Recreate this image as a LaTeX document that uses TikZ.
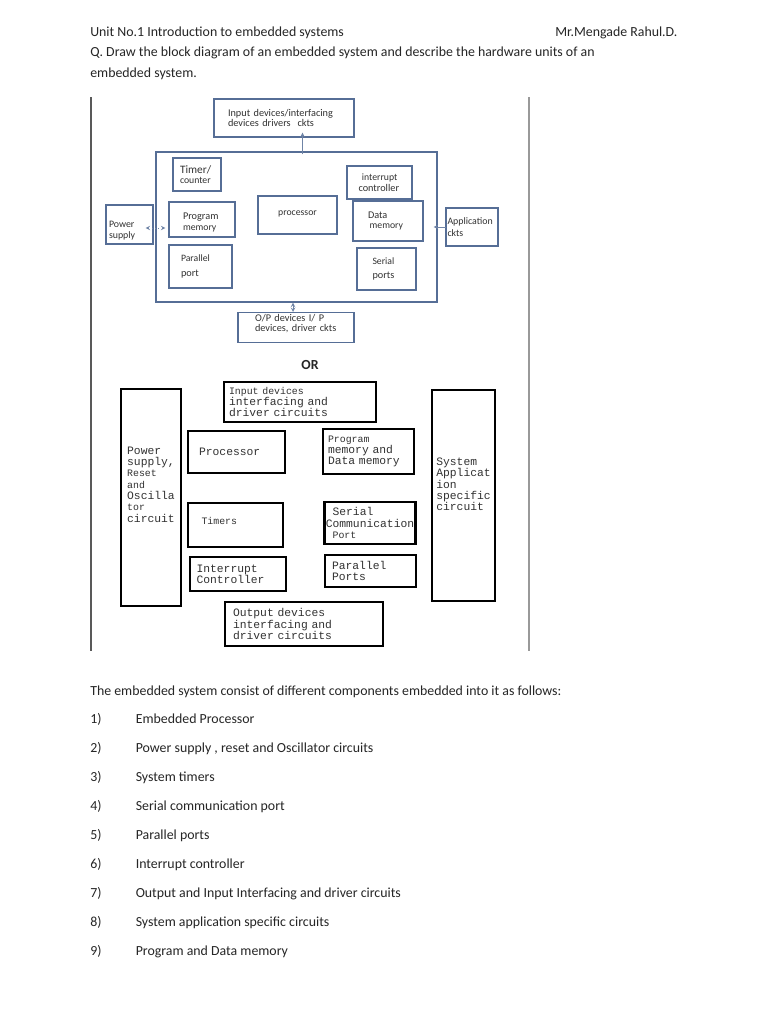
\documentclass[tikz,border=0pt]{standalone}
\usepackage{fontspec}
\setmainfont{Carlito}
\newfontfamily\monofont{Liberation Mono}
\usetikzlibrary{calc}
\definecolor{boxblue}{RGB}{86,110,150}
\definecolor{inkgray}{RGB}{50,50,50}
\newcommand\minitxt{\fontsize{7.3}{8}\selectfont}
\newcommand\smallmono{\fontsize{7.4}{8.5}\selectfont}
\hyphenpenalty=10000
\exhyphenpenalty=10000

\tikzset{
  sz/.style 2 args={minimum width=#1*0.75pt, minimum height=#2*0.75pt},
  tw/.style={text width=#1*0.75pt},
  bluebox/.style={draw=boxblue, line width=0.9pt, inner sep=1pt, align=left, text=inkgray, font=\fontsize{7.7}{8}\selectfont},
  blackbox/.style={draw=black, line width=2.2pt, inner sep=1pt, align=left, text=inkgray, font=\monofont\fontsize{8.5}{8.5}\selectfont},
  bodytext/.style={anchor=base west, inner sep=0pt, text=black!85, font=\fontsize{10.4}{12}\selectfont},
  link/.style={draw=boxblue!85, line width=0.5pt, >=stealth},
}

\begin{document}
\begin{tikzpicture}[x=0.75pt, y=-0.75pt]
			\useasboundingbox[fill=white] (0,0) rectangle (768,1024);
			
			%%%%% HEADER %%%%%
			\node[bodytext] (unit) at (90, 37) {Unit No.1 Introduction to embedded systems};
			\node[bodytext] (author) at (555, 37) {Mr.Mengade Rahul.D.};
			\node[bodytext] (qline) at (90, 56.5) {Q. Draw the block diagram of an embedded system and describe the hardware units of an};
			\node[bodytext] (qend) at (90, 78) {embedded system.};
			
			%%%%% FRAME %%%%%
			\draw[black!65, line width=1pt] (91, 97) -- (91, 651);
			\draw[black!40, line width=0.8pt] (529, 97) -- (529, 651);
			
			%%%%% FIRST DIAGRAM %%%%%
			\node[bluebox, sz={140}{38}, tw=112] (inp) at (284, 118) {Input devices/interfacing\\devices drivers\ \ ckts};
			\node[bluebox, sz={281}{150}] (outer) at (296.5, 227) {};
			\node[bluebox, sz={48}{33}, tw=34] (timer) at (197, 174.5) {{\fontsize{8.5}{9}\selectfont Timer/}\\{\minitxt counter}};
			\node[bluebox, sz={66}{35}, tw=38] (prog) at (202, 219.5) {\rule{0pt}{9pt}Program\\{\minitxt memory}};
			\node[bluebox, sz={63}{43}, tw=39] (par) at (200.5, 266.5) {{\minitxt Parallel}\\[3pt]port};
			\node[bluebox, sz={79}{38}] (proc) at (297.5, 215) {{\minitxt processor}\\[-4.5pt]};
			\node[bluebox, sz={65}{33}, tw=42] (intr) at (379.5, 182.5) {{\minitxt \ interrupt}\\controller};
			\node[bluebox, sz={70}{40}, tw=40] (data) at (388, 221) {Data\\\,{\minitxt memory}};
			\node[bluebox, sz={59}{42}, tw=28] (ser) at (386.5, 269) {{\minitxt Serial}\\[2pt]ports};
			\node[bluebox, sz={47}{39}, tw=41, font=\fontsize{7.4}{8.5}\selectfont] (pwr) at (129.5, 224.5) {\rule{0pt}{14pt}Power\\supply};
			\node[bluebox, sz={52}{38}, tw=49, font=\fontsize{7.4}{8.5}\selectfont] (app) at (472, 227) {Application\\ckts};
			\node[bluebox, sz={116}{29}, tw=82] (op) at (296, 327.5) {O/P devices I/ P\\devices, driver ckts\rule[-7pt]{0pt}{7pt}};
			
			\draw[link, ->] ($(outer.north)+(6, 3)$) -- ($(inp.south)+(18.5, -5)$);
			\draw[link, <->] ($(outer.south)+(-3.5, 0)$) -- ($(op.north)+(-3, 0)$);
			\draw[link, <->, dotted] ($(pwr.east)+(-8, 3.5)$) -- ($(prog.west)+(-3, 8.5)$);
			\draw[link, ->] ($(app.west)+(1, 0)$) -- ($(outer.east)+(-4, 0)$);
			
			\node[bodytext, anchor=center, font=\bfseries\fontsize{10.4}{12}\selectfont] (or) at (310, 365) {OR};
			
			%%%%% SECOND DIAGRAM %%%%%
			\node[blackbox, sz={152}{40}, tw=142] (inp2) at (300, 402) {{\smallmono Input devices}\\interfacing and\\driver circuits};
			\node[blackbox, sz={60}{217}] (pwr2) at (151, 497.5) {Power\\supply,\\{\smallmono Reset}\\{\smallmono and}\\Oscilla\\{\smallmono tor}\\circuit\\[11pt]};
			\node[blackbox, sz={97}{42}] (proc2) at (236.5, 452) {Processor\ \ };
			\node[blackbox, sz={91}{45}, tw=81] (mem2) at (368.5, 451.5) {{\smallmono Program}\\memory and\\Data memory};
			\node[blackbox, sz={63}{211}] (app2) at (463.5, 495.5) {System\\Applicat\\ion\\specific\\circuit\\[8pt]};
			\node[blackbox, sz={95}{44}, tw=68] (tim2) at (235.5, 525) {{\smallmono Timers}\rule[-6pt]{0pt}{6pt}};
			\node[blackbox, sz={88}{42}] (ser2) at (370, 523) {\ Serial\\Communication\\\ {\smallmono Port}};
			\node[blackbox, sz={96}{34}, tw=83] (int2) at (238, 574) {Interrupt\\Controller};
			\node[blackbox, sz={91}{32}, tw=77] (par2) at (370.5, 571) {Parallel\\Ports};
			\node[blackbox, sz={158}{44}, tw=142] (out2) at (304, 624) {Output devices\\interfacing and\\driver circuits};
			
			%%%%% LIST %%%%%
			\node[bodytext] (intro) at (90, 695) {The embedded system consist of different components embedded into it as follows:};
			\foreach \txt [count=\i] in {Embedded Processor, {Power supply , reset and Oscillator circuits}, System timers, Serial communication port, Parallel ports, Interrupt controller, Output and Input Interfacing and driver circuits, System application specific circuits, Program and Data memory}
			{
				\node[bodytext] (num\i) at (90, 694+29*\i) {\i)};
				\node[bodytext] (item\i) at (135.5, 694+29*\i) {\txt};
			}
		\end{tikzpicture}
\end{document}
